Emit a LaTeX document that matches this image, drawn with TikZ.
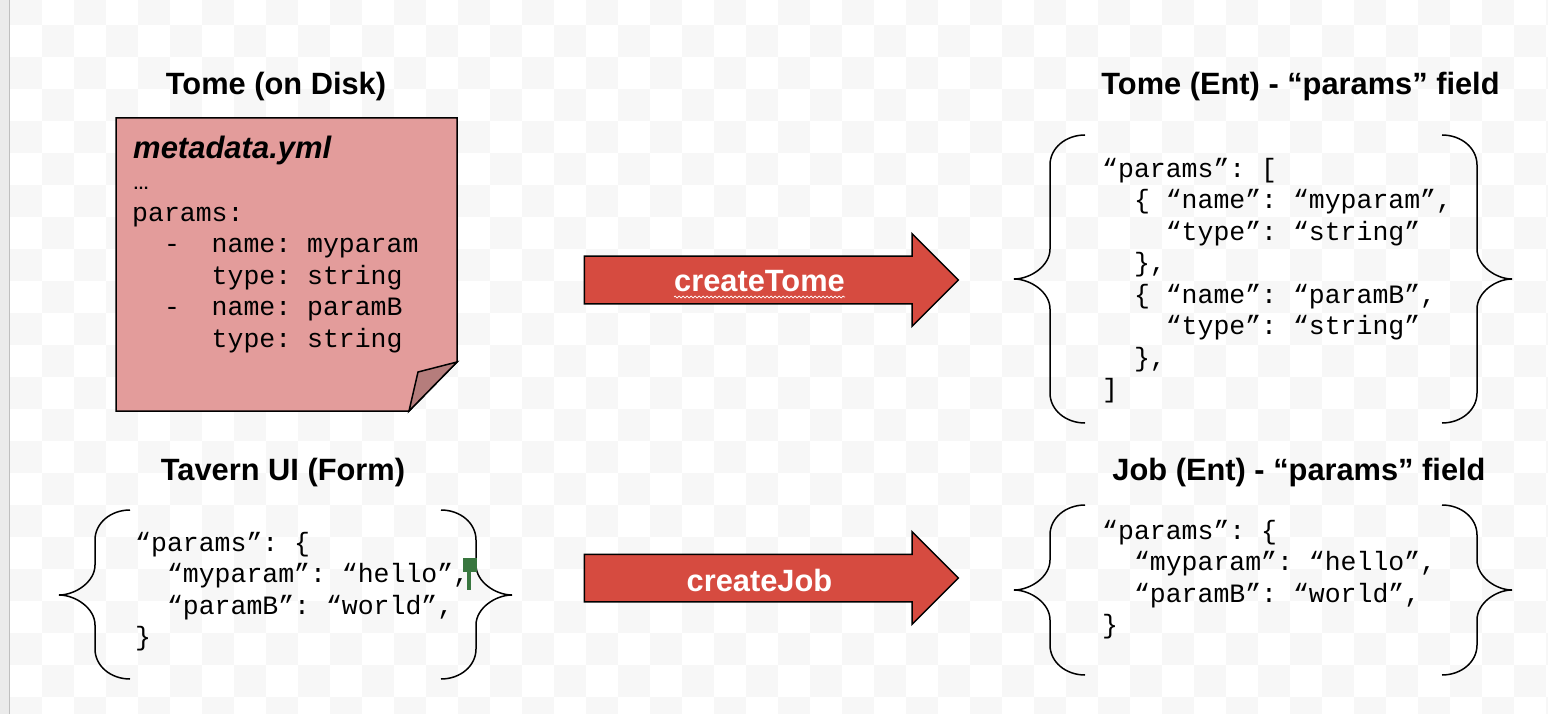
\documentclass[tikz,border=0pt]{standalone}
\usepackage{fontspec}
\setmainfont{Liberation Sans}
\setmonofont{Liberation Mono}
\usetikzlibrary{shapes.arrows}
\usetikzlibrary{decorations.pathmorphing}
\definecolor{cellgray}{HTML}{F7F7F7}
\definecolor{notered}{HTML}{E39C9B}
\definecolor{foldred}{HTML}{B57D7C}
\definecolor{arrowred}{HTML}{D64B40}
\definecolor{cursorgreen}{HTML}{38763F}
\definecolor{sidegray}{HTML}{EBEBEB}
\newcommand{\bracepath}[6]{
    \draw[brace] (#1,#4) .. controls ({#2+0.45*(#1-#2)},#4) and (#2,#4+13) .. (#2,#4+30)
        -- (#2,#5-30) .. controls (#2,#5-13) and ({#3+0.45*(#2-#3)},#5) .. (#3,#5)
        .. controls ({#3+0.45*(#2-#3)},#5) and (#2,#5+13) .. (#2,#5+30)
        -- (#2,#6-30) .. controls (#2,#6-13) and ({#2+0.45*(#1-#2)},#6) .. (#1,#6);
}

\begin{document}
\begin{tikzpicture}[x=1pt,y=-1pt]

\tikzset{
    title/.style={font=\fontsize{30.8}{34}\selectfont\bfseries},
    code/.style={anchor=north west,align=left,inner sep=0pt,font=\fontsize{26.5}{31.5}\selectfont\ttfamily},
    brace/.style={draw=black,line width=1.5pt},
    bigarrow/.style={shape=single arrow,draw=black,line width=1.5pt,fill=arrowred,text=white,font=\fontsize{30.8}{34}\selectfont\bfseries,minimum height=374pt,text height=22pt,text depth=0pt,inner xsep=0pt,inner ysep=12pt,single arrow head extend=22.5pt,single arrow tip angle=90}
}
% variables
\def\cell{32}
\def\codeleft{1102}

\useasboundingbox (0,0) rectangle (1548,714);

% ----------- background ----------- %
\fill[white] (0,0) rectangle (1548,714);
\foreach \i in {0,...,48}{
    \foreach \j in {0,...,23}{
        \pgfmathparse{int(mod(\i+\j,2))}
        \ifnum\pgfmathresult=0
            \fill[cellgray] (10+\i*\cell,-7+\j*\cell) rectangle (10+\i*\cell+\cell,-7+\j*\cell+\cell);
        \fi
    }
}
\fill[sidegray] (0,0) rectangle (9,714);
\draw[line width=1pt,black!25] (9.5,0) -- (9.5,714);

% ------------ titles ---------%
\node[title] (tomeDisk) at (276,87) {Tome (on Disk)};
\node[title] (tomeEnt) at (1300.5,87) {Tome (Ent) - “params” field};
\node[title] (tavernForm) at (283,473) {Tavern UI (Form)};
\node[title] (jobEnt) at (1299,473) {Job (Ent) - “params” field};

% ------------ sticky note ---------%
\draw[line width=1.5pt,fill=notered] (116,118) -- (457,118) -- (457,362) -- (409,411) -- (116,411) -- cycle;
\draw[line width=1.5pt,fill=foldred] (457,362) -- (418,372) -- (409,411) -- cycle;
\node[anchor=west,inner sep=0pt,font=\fontsize{31}{34}\selectfont\bfseries\itshape] (metaName) at (133,150) {metadata.yml};
\node[anchor=base west,inner sep=0pt,font=\fontsize{16}{18}\selectfont\bfseries] (metaDots) at (133,190) {…};
\node[code] (metaCode) at (132,207) {params:\\
~~-~~name:~myparam\\
~~~~~type:~string\\
~~-~~name:~paramB\\
~~~~~type:~string};

% ------------ arrows ---------%
\node[bigarrow] (createTome) at (759.5,280) {createTome};
\draw[white,line width=0.7pt,decorate,decoration={zigzag,segment length=4pt,amplitude=1pt}]
    (674,297) -- (845,297);
\node[bigarrow] (createJob) at (759.5,578) {\raisebox{-2.5pt}{createJob}};

% ------------ braces ---------%
\bracepath{1085}{1050}{1014}{135}{279}{423}
\bracepath{1442}{1477}{1512}{135}{279}{423}
\bracepath{130}{95}{59}{510}{595}{679}
\bracepath{441}{476}{512}{510}{595}{679}
\bracepath{1085}{1050}{1014}{505}{590}{675}
\bracepath{1442}{1477}{1512}{505}{590}{675}

% ------------ json text ---------%
\node[code] (tomeCode) at (\codeleft,158) {“params”:~[\\
~~\{~“name”:~“myparam”,\\
~~~~“type”:~“string”\\
~~\},\\
~~\{~“name”:~“paramB”,\\
~~~~“type”:~“string”\\
~~\},\\
]};
\node[code] (tavernCode) at (135,532) {“params”:~\{\\
~~“myparam”:~“hello”,\\
~~“paramB”:~“world”,\\
\}};
\node[code] (jobCode) at (\codeleft,520) {“params”:~\{\\
~~“myparam”:~“hello”,\\
~~“paramB”:~“world”,\\
\}};

% cursor
\fill[cursorgreen] (463,558) rectangle (477,572);
\fill[cursorgreen] (467,572) rectangle (471,590);

\end{tikzpicture}
\end{document}
